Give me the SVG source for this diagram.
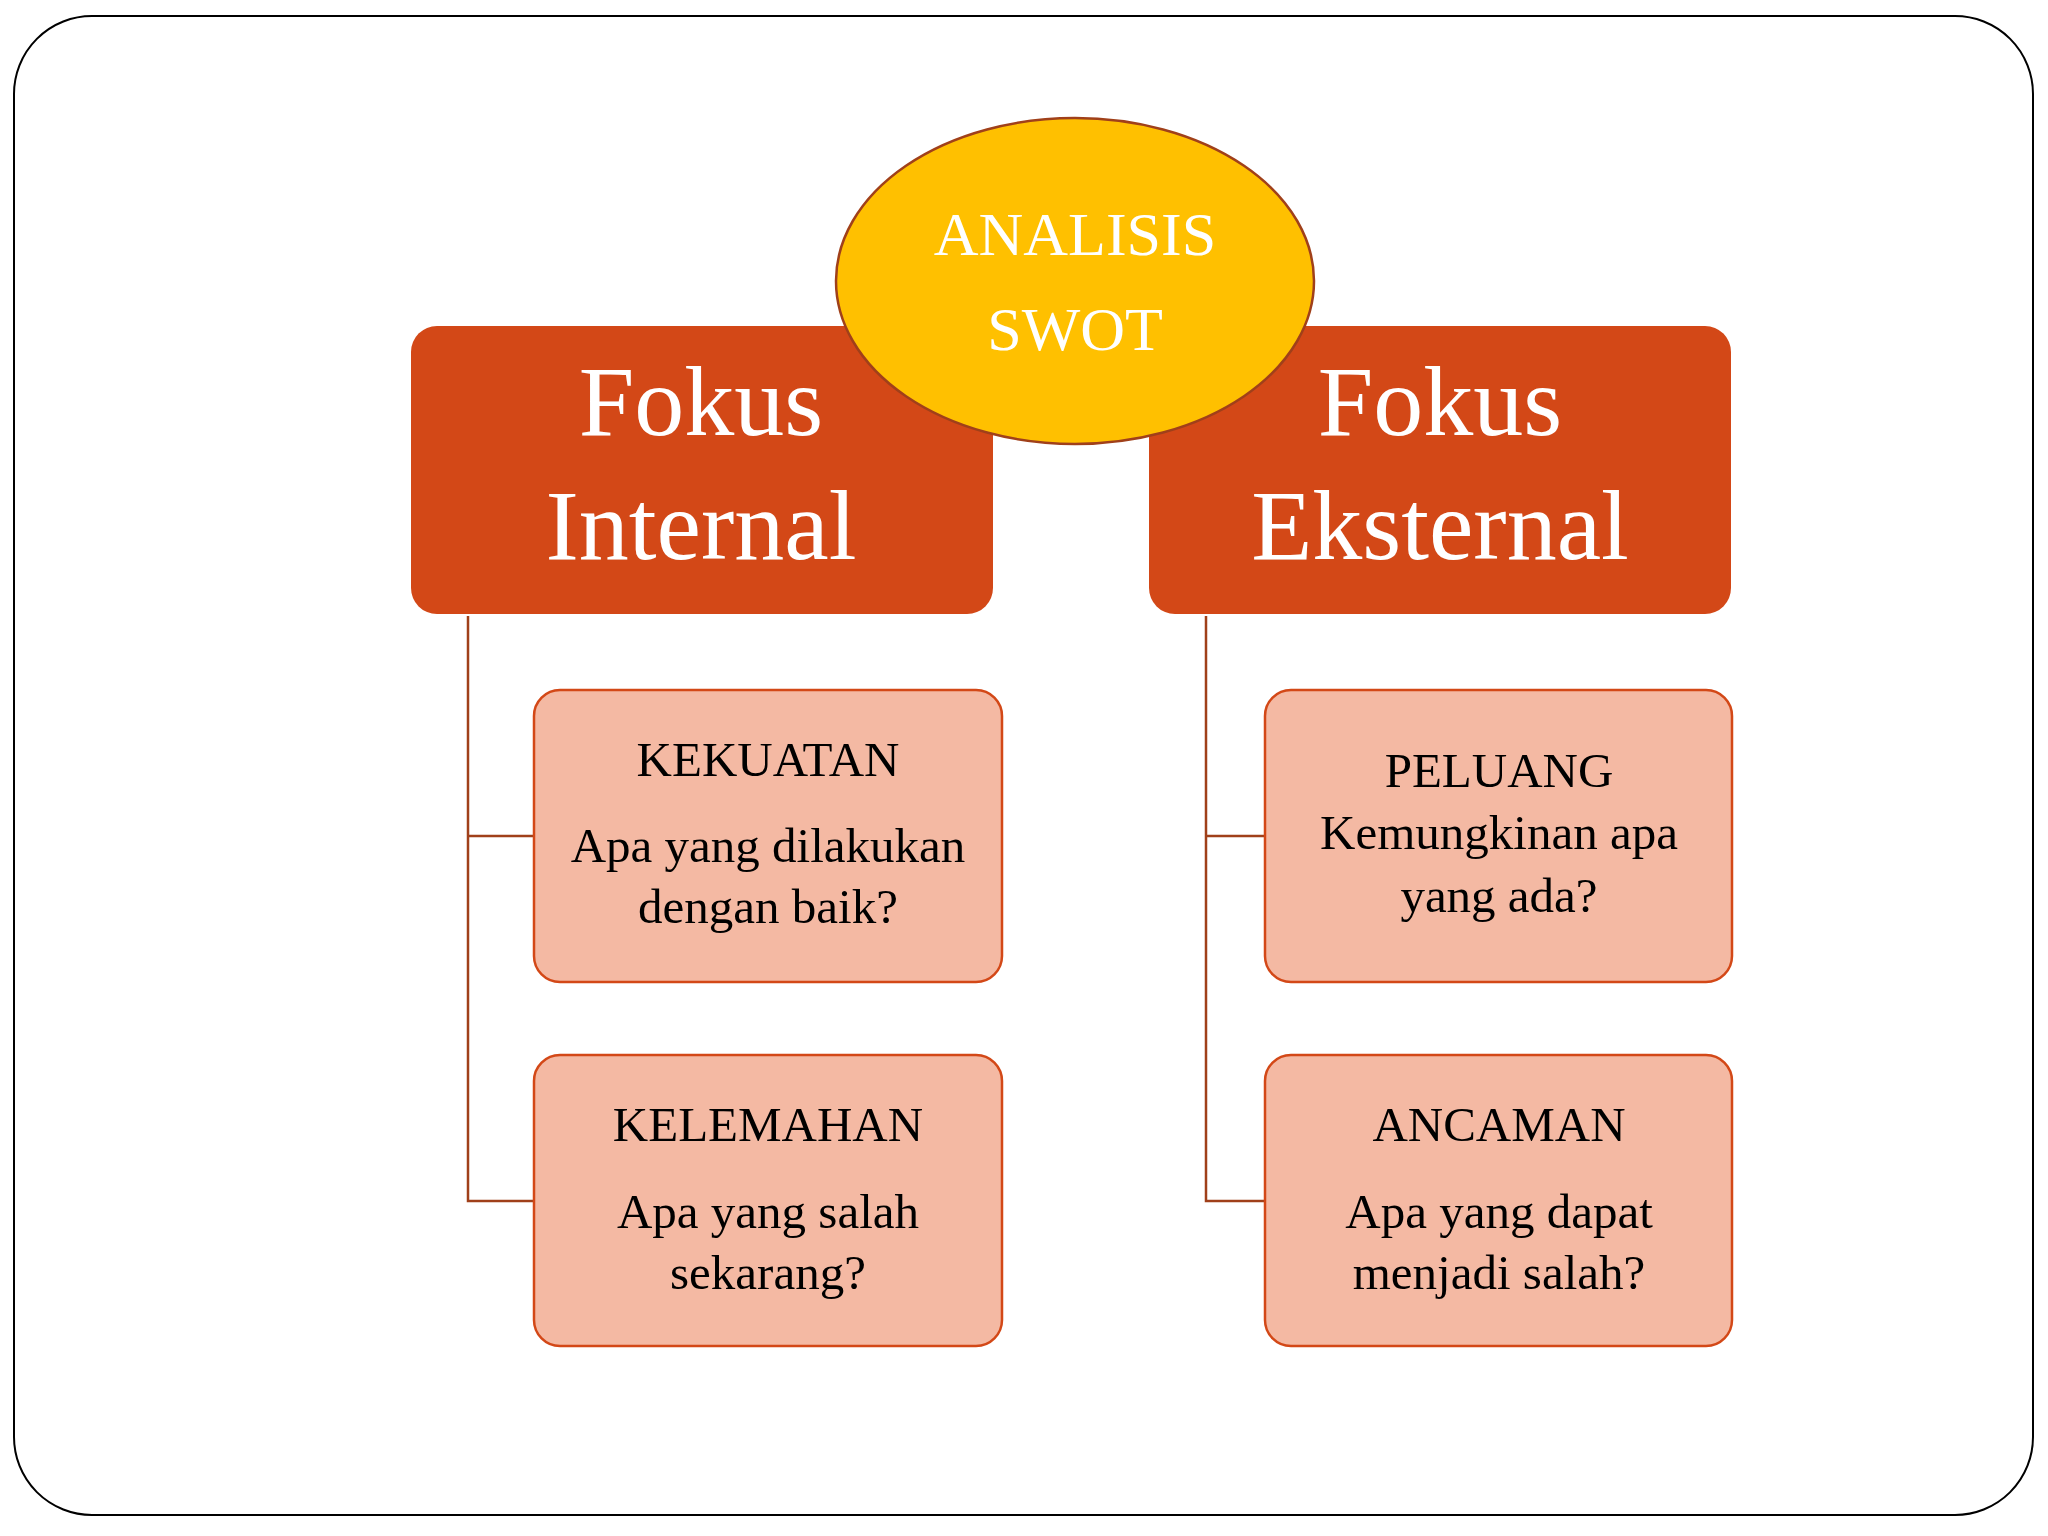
<svg xmlns="http://www.w3.org/2000/svg" width="2048" height="1536" viewBox="0 0 2048 1536">
<style>
.hd{fill:#D34817}
.ch{fill:#F4B9A3;stroke:#D34817;stroke-width:2.5}
.ht{font-family:"Liberation Serif",serif;font-size:100px;fill:#fff;text-anchor:middle}
.et{font-family:"Liberation Serif",serif;font-size:62px;fill:#fff;text-anchor:middle}
.ct{font-family:"Liberation Serif",serif;font-size:49px;fill:#000;text-anchor:middle}
.cn{fill:none;stroke:#A0401A;stroke-width:2.5}
</style>
<rect x="0" y="0" width="2048" height="1536" fill="#fff"/>
<rect x="14" y="16" width="2019" height="1499" rx="78" fill="#fff" stroke="#000" stroke-width="2"/>
<g id="connectors">
<path class="cn" d="M468,616 V1201 H534 M468,836 H534"/>
<path class="cn" d="M1206,616 V1201 H1265 M1206,836 H1265"/>
</g>
<g id="internal"><rect class="hd" x="411" y="326" width="582" height="288" rx="26"/>
<text class="ht" x="701" y="435">Fokus</text><text class="ht" x="701" y="559">Internal</text></g>
<g id="eksternal"><rect class="hd" x="1149" y="326" width="582" height="288" rx="26"/>
<text class="ht" x="1440" y="435">Fokus</text><text class="ht" x="1440" y="559">Eksternal</text></g>
<g id="swot"><ellipse cx="1075" cy="281" rx="239" ry="163" fill="#FFC000" stroke="#A0401A" stroke-width="2.5"/>
<text class="et" x="1075" y="255">ANALISIS</text><text class="et" x="1075" y="350">SWOT</text></g>
<g id="kekuatan"><rect class="ch" x="534" y="690" width="468" height="292" rx="26"/>
<text class="ct" x="768" y="776">KEKUATAN</text><text class="ct" x="768" y="862">Apa yang dilakukan</text><text class="ct" x="768" y="923">dengan baik?</text></g>
<g id="kelemahan"><rect class="ch" x="534" y="1055" width="468" height="291" rx="26"/>
<text class="ct" x="768" y="1141">KELEMAHAN</text><text class="ct" x="768" y="1228">Apa yang salah</text><text class="ct" x="768" y="1289">sekarang?</text></g>
<g id="peluang"><rect class="ch" x="1265" y="690" width="467" height="292" rx="26"/>
<text class="ct" x="1499" y="787">PELUANG</text><text class="ct" x="1499" y="849">Kemungkinan apa</text><text class="ct" x="1499" y="912">yang ada?</text></g>
<g id="ancaman"><rect class="ch" x="1265" y="1055" width="467" height="291" rx="26"/>
<text class="ct" x="1499" y="1141">ANCAMAN</text><text class="ct" x="1499" y="1228">Apa yang dapat</text><text class="ct" x="1499" y="1289">menjadi salah?</text></g>
</svg>
